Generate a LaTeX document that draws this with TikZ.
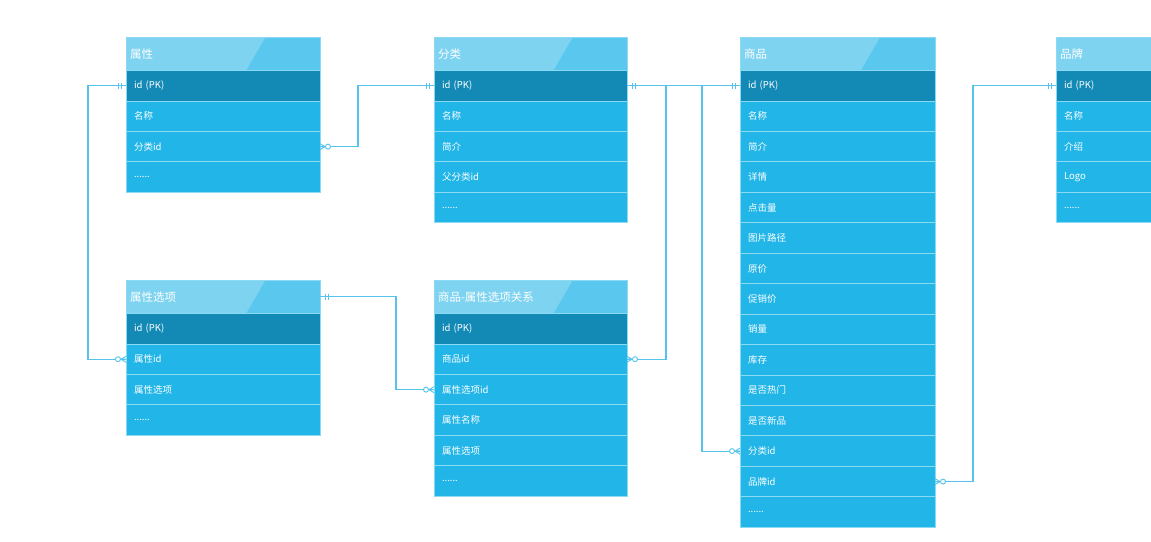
\documentclass[tikz,border=0pt]{standalone}
\usepackage{fontspec}
\setmainfont{Noto Sans CJK SC}
\usetikzlibrary{calc}
\definecolor{hdrlight}{HTML}{7DD3F0}
\definecolor{hdrdark}{HTML}{5AC8EE}
\definecolor{rowblue}{HTML}{21B5E8}
\definecolor{idblue}{HTML}{1389B5}
\definecolor{sepline}{HTML}{8CD9F4}
\definecolor{connc}{HTML}{55C3EC}
\newcommand\sixdots{......}
\tikzset{
 cell/.style={anchor=north west, draw=sepline, line width=0.9pt, outer sep=0pt, inner xsep=8pt, inner ysep=0pt, align=left, text=white, font=\fontsize{9.5}{11}\selectfont},
 hdrbox/.style={cell, inner xsep=4pt, fill=hdrlight, minimum height=33.5pt, font=\fontsize{11.5}{13}\selectfont,
   path picture={\fill[hdrdark] ($(path picture bounding box.north west)!0.72!(path picture bounding box.north east)$) -- (path picture bounding box.north east) -- (path picture bounding box.south east) -- ($(path picture bounding box.south west)!0.62!(path picture bounding box.south east)$) -- cycle;}},
 rowbox/.style={cell, fill=rowblue, minimum height=30.45pt},
 idbox/.style={cell, fill=idblue, minimum height=30.45pt},
 conn/.style={draw=connc, line width=1.2pt},
 onemark/.pic={\draw[conn, line width=0.9pt] (-5,-3)--(-5,3) (-8,-3)--(-8,3);},
 zmany/.pic={\draw[conn,line width=0.9pt] (-5,0)--(0,-3) (-5,0)--(0,3) (-5,0)--(0,0); \draw[conn,line width=0.9pt,fill=white] (-8,0) circle (2.5pt);}
}
\newcommand\ertable[6]{%
 \pgfmathsetmacro\hw{#4-8}\pgfmathsetmacro\rw{#4-16}%
 \node[hdrbox, text width=\hw pt] (#1-0) at (#2,#3) {#5};
 \node[idbox, text width=\rw pt] (#1-1) at (#1-0.south west) {id (PK)};
 \foreach \t [count=\i from 2] in {#6} {
   \pgfmathtruncatemacro\j{\i-1}
   \node[rowbox, text width=\rw pt] (#1-\i) at (#1-\j.south west) {\t};
 }
}
\begin{document}
\begin{tikzpicture}[x=1pt,y=-1pt]
\useasboundingbox (0,0) rectangle (1151,541);
\begin{scope}
\clip (0,0) rectangle (1151,541);
\ertable{attr}{126}{37}{194}{属性}{名称,分类id,\sixdots}
\ertable{cat}{434}{37}{193}{分类}{名称,简介,父分类id,\sixdots}
\ertable{goods}{740}{37}{195}{商品}{名称,简介,详情,点击量,图片路径,原价,促销价,销量,库存,是否热门,是否新品,分类id,品牌id,\sixdots}
\ertable{brand}{1056}{37}{195}{品牌}{名称,介绍,Logo,\sixdots}
\ertable{opt}{126}{280}{194}{属性选项}{属性id,属性选项,\sixdots}
\ertable{rel}{434}{280}{193}{商品-属性选项关系}{商品id,属性选项id,属性名称,属性选项,\sixdots}

\draw[conn] (attr-1.west) -- ++(-38,0) |- (opt-2.west);
\draw[conn] (attr-3.east) -- ++(38,0) |- (cat-1.west);
\draw[conn] (cat-1.east) -- ++(75,0) |- (goods-13.west);
\draw[conn] (goods-1.west) -- ++(-74,0) |- (rel-2.east);
\draw[conn] (opt-0.east) -- ++(76,0) |- (rel-3.west);
\draw[conn] (brand-1.west) -- ++(-83,0) |- (goods-14.east);

\pic at (attr-1.west) {onemark};
\pic at (cat-1.west) {onemark};
\pic[xscale=-1] at (cat-1.east) {onemark};
\pic at (goods-1.west) {onemark};
\pic[xscale=-1] at (opt-0.east) {onemark};
\pic at (brand-1.west) {onemark};
\pic at (opt-2.west) {zmany};
\pic[xscale=-1] at (attr-3.east) {zmany};
\pic at (goods-13.west) {zmany};
\pic[xscale=-1] at (rel-2.east) {zmany};
\pic at (rel-3.west) {zmany};
\pic[xscale=-1] at (goods-14.east) {zmany};
\end{scope}
\end{tikzpicture}
\end{document}
